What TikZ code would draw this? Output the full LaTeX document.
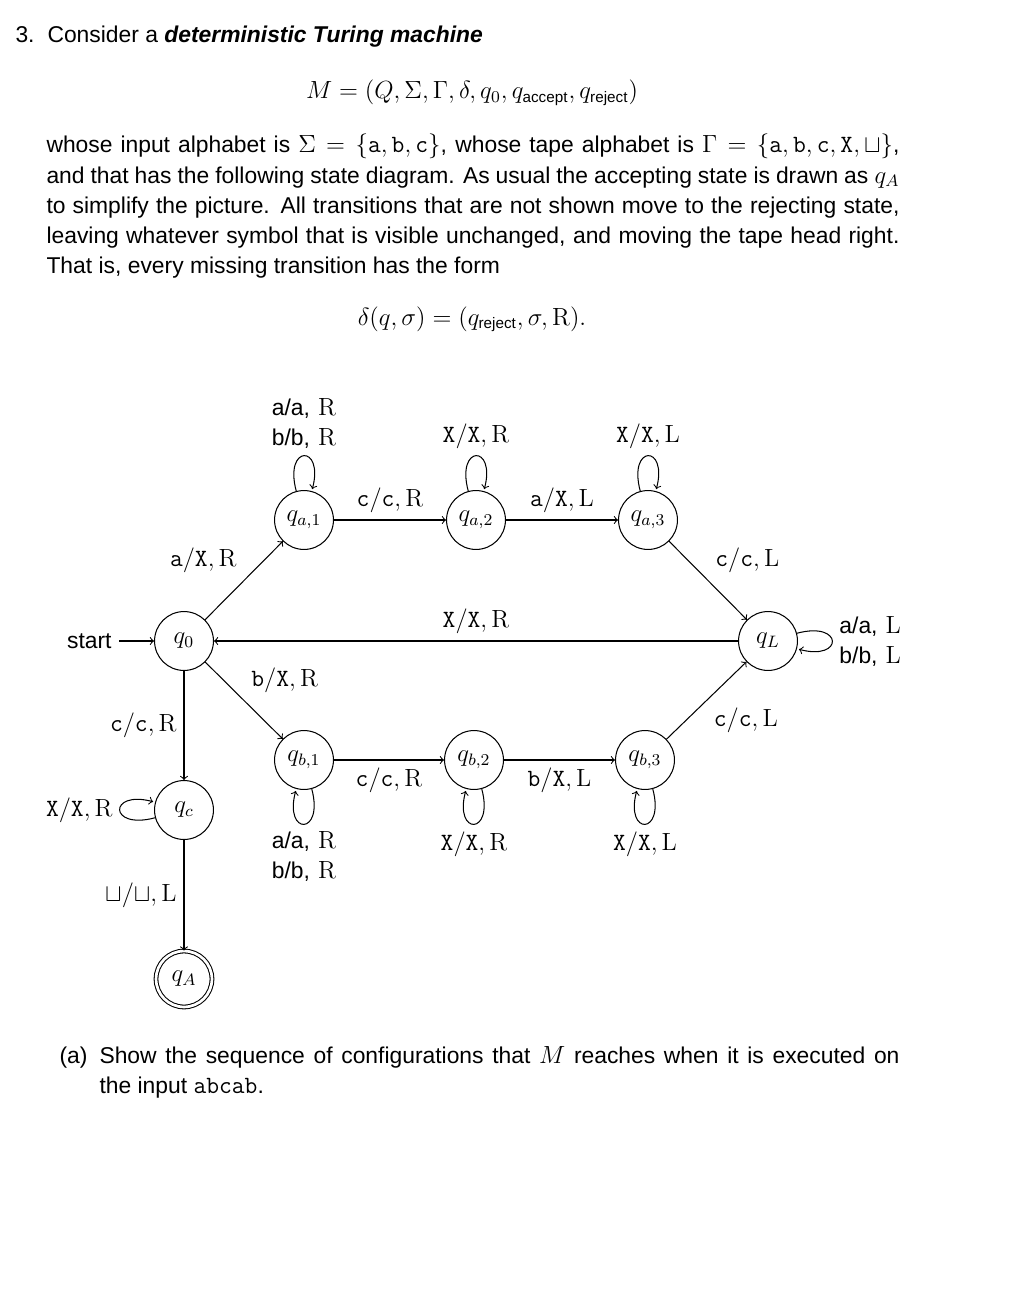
\documentclass[tikz,border=0pt]{standalone}
\usepackage{amsmath}
\usepackage{fontspec}
\newfontfamily\helv[Scale=0.92]{Liberation Sans}
\newcommand\hs[1]{\text{\helv #1}}
\usetikzlibrary{arrows.meta}
\tikzset{
  tmstate/.style={circle,draw,minimum size=1cm,inner sep=0pt},
  tmaccept/.style={circle,draw,double,double distance=1.3pt,minimum size=27pt,inner sep=0pt},
  txt/.style={inner sep=0pt,anchor=base west,font=\fontsize{12}{14.5}\selectfont\helv},
  mtxt/.style={inner sep=0pt,anchor=base,font=\fontsize{12}{14.5}\selectfont},
}
\begin{document}
\begin{tikzpicture}[x=0.483pt,y=-0.483pt,font=\fontsize{12}{14.5}\selectfont,>=to,line width=0.5pt]
\useasboundingbox (0,0) rectangle (1012,1312);
\fill[white] (0,0) rectangle (1012,1312);

% header text
\node[txt] (num) at (15,43) {3.};
\node[txt] (title) at (47,43) {Consider a \textbf{\textit{deterministic Turing machine}}};
\node[mtxt] (mdef) at (472,99) {$M=(Q,\Sigma,\Gamma,\delta,q_0,q_{\hs{accept}},q_{\hs{reject}})$};
\node[txt] (p1) at (46,153) {\hbox to 412pt{whose input alphabet is $\Sigma=\{\mathtt{a},\mathtt{b},\mathtt{c}\}$, whose tape alphabet is $\Gamma=\{\mathtt{a},\mathtt{b},\mathtt{c},\mathtt{X},\sqcup\}$,}};
\node[txt] (p2) at (46,183) {\hbox to 412pt{and that has the following state diagram. As usual the accepting state is drawn as $q_A$}};
\node[txt] (p3) at (46,213) {\hbox to 412pt{to simplify the picture. All transitions that are not shown move to the rejecting state,}};
\node[txt] (p4) at (46,243) {\hbox to 412pt{leaving whatever symbol that is visible unchanged, and moving the tape head right.}};
\node[txt] (p5) at (46,273) {That is, every missing transition has the form};
\node[mtxt] (deltadef) at (472,325) {$\delta(q,\sigma)=(q_{\hs{reject}},\sigma,\mathrm{R}).$};

% states
\node[tmstate] (q0) at (184,641) {$q_0$};
\node[tmstate] (qa1) at (304,520) {$q_{a,1}$};
\node[tmstate] (qa2) at (476,520) {$q_{a,2}$};
\node[tmstate] (qa3) at (648,520) {$q_{a,3}$};
\node[tmstate] (qL) at (768,641) {$q_L$};
\node[tmstate] (qb1) at (304,760) {$q_{b,1}$};
\node[tmstate] (qb2) at (474,760) {$q_{b,2}$};
\node[tmstate] (qb3) at (645,760) {$q_{b,3}$};
\node[tmstate] (qc) at (184,810) {$q_c$};
\node[tmaccept] (qA) at (184,979) {$q_A$};
\node[anchor=east,font=\fontsize{12}{14.5}\selectfont\helv] (start) at (119,641) {start};

% transitions
\draw[->] (start) -- (q0);
\draw[->] (q0) -- node[above left] {$\mathtt{a}/\mathtt{X},\mathrm{R}$} (qa1);
\draw[->] (qa1) -- node[above] {$\mathtt{c}/\mathtt{c},\mathrm{R}$} (qa2);
\draw[->] (qa2) -- node[above] {$\mathtt{a}/\mathtt{X},\mathrm{L}$} (qa3);
\draw[->] (qa3) -- node[above right] {$\mathtt{c}/\mathtt{c},\mathrm{L}$} (qL);
\draw[->] (qL) -- node[above] {$\mathtt{X}/\mathtt{X},\mathrm{R}$} (q0);
\draw[->] (q0) -- node[above right] {$\mathtt{b}/\mathtt{X},\mathrm{R}$} (qb1);
\draw[->] (qb1) -- node[below] {$\mathtt{c}/\mathtt{c},\mathrm{R}$} (qb2);
\draw[->] (qb2) -- node[below] {$\mathtt{b}/\mathtt{X},\mathrm{L}$} (qb3);
\draw[->] (qb3) -- node[below right] {$\mathtt{c}/\mathtt{c},\mathrm{L}$} (qL);
\draw[->] (q0) -- node[left] {$\mathtt{c}/\mathtt{c},\mathrm{R}$} (qc);
\draw[->] (qc) -- node[left] {$\sqcup/\sqcup,\mathrm{L}$} (qA);

% loops
\path[->] (qa1) edge[loop above] node[above,align=center] {{\helv a/a,} $\mathrm{R}$\\{\helv b/b,} $\mathrm{R}$} ();
\path[->] (qa2) edge[loop above] node[above] {$\mathtt{X}/\mathtt{X},\mathrm{R}$} ();
\path[->] (qa3) edge[loop above] node[above] {$\mathtt{X}/\mathtt{X},\mathrm{L}$} ();
\path[->] (qL) edge[loop right] node[right,align=left] {{\helv a/a,} $\mathrm{L}$\\{\helv b/b,} $\mathrm{L}$} ();
\path[->] (qb1) edge[loop below] node[below,align=center] {{\helv a/a,} $\mathrm{R}$\\{\helv b/b,} $\mathrm{R}$} ();
\path[->] (qb2) edge[loop below] node[below] {$\mathtt{X}/\mathtt{X},\mathrm{R}$} ();
\path[->] (qb3) edge[loop below] node[below] {$\mathtt{X}/\mathtt{X},\mathrm{L}$} ();
\path[->] (qc) edge[loop left] node[left] {$\mathtt{X}/\mathtt{X},\mathrm{R}$} ();

% question
\node[txt] (qa) at (59,1063) {(a)};
\node[txt] (ql1) at (99,1063) {\hbox to 386.4pt{Show the sequence of configurations that $M$ reaches when it is executed on}};
\node[txt] (ql2) at (99,1093) {the input \texttt{abcab}.};
\end{tikzpicture}
\end{document}
